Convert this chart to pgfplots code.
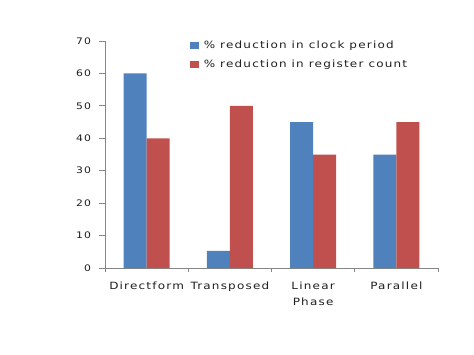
\documentclass[border=0pt]{standalone}
\usepackage{pgfplots}
\pgfplotsset{compat=1.18}
\usepackage{fontspec}
\setmainfont{DejaVu Sans}
\newfontfamily\lblfont{DejaVu Sans}[FakeStretch=1.2,LetterSpace=12]
\definecolor{cblue}{HTML}{4F81BD}
\definecolor{cred}{HTML}{C0504D}
\definecolor{axgray}{HTML}{868686}
\definecolor{txt}{HTML}{1E1E1E}
\begin{document}
\begin{tikzpicture}
\path[use as bounding box] (0,0) rectangle (474pt,354pt);
\begin{axis}[
  at={(105pt,86pt)}, anchor=south west,
  scale only axis, width=333pt, height=227pt,
  ybar=0pt, bar width=23pt,
  xmin=-0.5, xmax=3.5, ymin=0, ymax=70,
  ytick={0,10,...,70},
  xtick={0,1,2,3},
  xticklabels={Directform,Transposed,{Linear\\Phase},Parallel},
  minor xtick={-0.5,0.5,1.5,2.5,3.5},
  axis x line*=bottom, axis y line*=left,
  axis line style={axgray, line width=0.8pt},
  tick align=outside,
  major tick length=5.5pt, minor tick length=4pt,
  major x tick style={draw=none},
  minor x tick style={axgray, line width=0.8pt},
  major y tick style={axgray, line width=0.8pt},
  /pgf/number format/assume math mode=true,
  yticklabel style={font=\lblfont\fontsize{9}{10}\selectfont, text=txt, xshift=-5pt},
  xticklabel style={font=\lblfont\fontsize{10}{15.5}\selectfont, align=center, text=txt, yshift=-5pt},
  legend style={at={(0.245,1.02)}, anchor=north west, draw=none, fill=none,
    font=\lblfont\fontsize{10}{11}\selectfont, text=txt, row sep=6pt,
    legend cell align=left,
    /tikz/every odd column/.append style={column sep=3pt}},
  legend image code/.code={\path[#1,draw=none] (0pt,-3.5pt) rectangle (9pt,3.5pt);},
]
\addplot[fill=cblue, draw=none] coordinates {(0,60) (1,5.3) (2,45) (3,35)};
\addplot[fill=cred, draw=none] coordinates {(0,40) (1,50) (2,35) (3,45)};
\legend{\% reduction in clock period, \% reduction in register count}
\end{axis}
\end{tikzpicture}
\end{document}
